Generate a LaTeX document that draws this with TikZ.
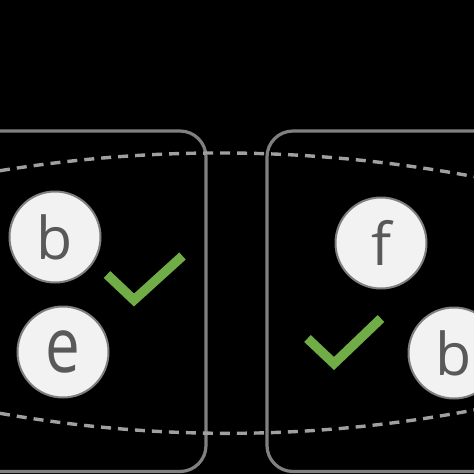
\documentclass[tikz,border=0pt]{standalone}
\usepackage{fontspec}
\setmainfont{Open Sans}
\definecolor{framegray}{HTML}{808080}
\definecolor{dashgray}{HTML}{A0A0A0}
\definecolor{circlegray}{HTML}{7F7F7F}
\definecolor{circlefill}{HTML}{F2F2F2}
\definecolor{lettergray}{HTML}{595959}
\definecolor{checkgreen}{HTML}{70AD47}
\begin{document}
\begin{tikzpicture}[x=1pt,y=-1pt,
  frame/.style={draw=framegray, line width=3.2pt, rounded corners=26pt},
  sep/.style={draw=dashgray, line width=3.4pt, dash pattern=on 10pt off 7pt},
  token/.style={circle, draw=circlegray, line width=2pt, fill=circlefill, minimum size=91pt, inner sep=0pt, text=lettergray, font=\fontsize{59}{60}\selectfont},
  tick/.style={draw=checkgreen, line width=9.5pt, line join=miter}]
\fill[black] (0,0) rectangle (474,474);
\useasboundingbox (0,0) rectangle (474,474);
\clip (0,0) rectangle (474,474);
% containers
\draw[frame] (-40,131) rectangle (206,471.5);
\draw[frame] (267,131) rectangle (520,471.5);
% dashed separators
\coordinate (u0) at (0,170.7);
\coordinate (u1) at (474,176.6);
\coordinate (l0) at (0,413.3);
\coordinate (l1) at (474,410);
\draw[sep] (u0) .. controls (158,145.2) and (316,147.2) .. (u1);
\draw[sep] (l0) .. controls (158,441) and (316,440) .. (l1);
% tokens
\node[token] (b1) at (55,237) {b};
\node[token] (e1) at (63,352) {\scalebox{1.05}[1.3]{e}};
\node[token] (f2) at (381,243) {f};
\node[token] (b2) at (454,353) {b};
% check marks
\coordinate (t1a) at (107,274.5);
\coordinate (t1b) at (134,300);
\coordinate (t1c) at (182.5,256);
\draw[tick] (t1a) -- (t1b) -- (t1c);
\coordinate (t2a) at (307.5,338.5);
\coordinate (t2b) at (334,363.5);
\coordinate (t2c) at (381,318.5);
\draw[tick] (t2a) -- (t2b) -- (t2c);
\end{tikzpicture}
\end{document}
